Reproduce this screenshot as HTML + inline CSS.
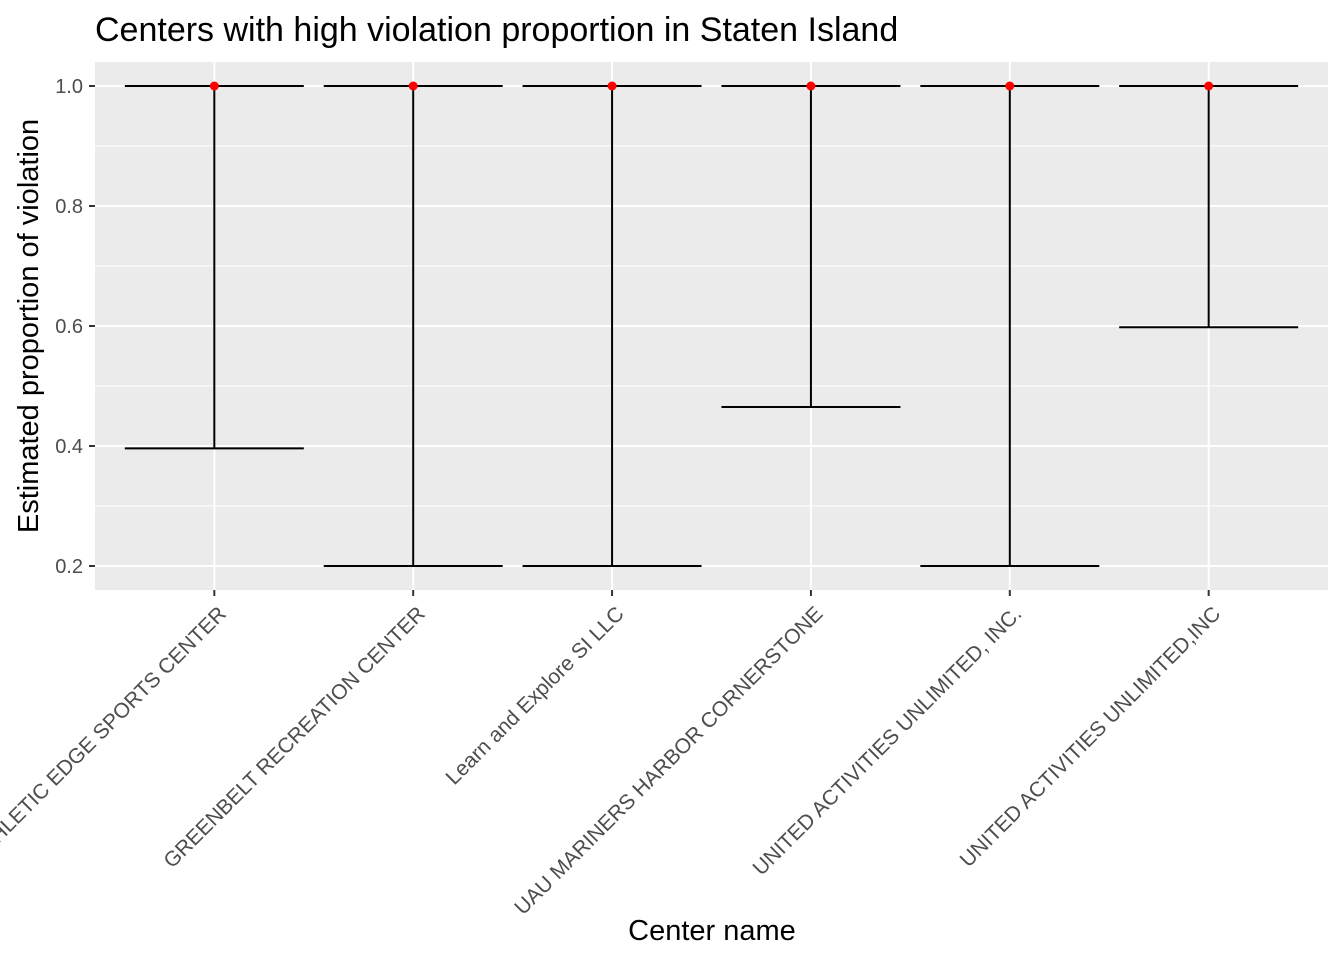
<!DOCTYPE html>
<html><head><meta charset="utf-8"><style>
body{margin:0;background:#fff;}
svg text{font-family:"Liberation Sans",Arial,sans-serif;}
</style></head><body>
<svg id="chart" width="1344" height="960" xmlns="http://www.w3.org/2000/svg">
<text x="95" y="41" font-size="34" fill="#000">Centers with high violation proportion in Staten Island</text>
<rect x="95" y="62" width="1233" height="528" fill="#ebebeb"/>
<g id="grid"></g><g id="marks"></g><g id="axes"></g>
<text x="712" y="940" font-size="29" text-anchor="middle" fill="#000">Center name</text>
<text transform="translate(38,326) rotate(-90)" font-size="29" text-anchor="middle" fill="#000">Estimated proportion of violation</text>
</svg>
<script>
const categories=["ATHLETIC EDGE SPORTS CENTER","GREENBELT RECREATION CENTER","Learn and Explore SI LLC","UAU MARINERS HARBOR CORNERSTONE","UNITED ACTIVITIES UNLIMITED, INC.","UNITED ACTIVITIES UNLIMITED,INC"];
const estimates=[1,1,1,1,1,1];
const lowers=[0.396,0.2,0.2,0.465,0.2,0.598];
const uppers=[1,1,1,1,1,1];
const yTicks=[0.2,0.4,0.6,0.8,1.0];
const yTickLabels=["0.2","0.4","0.6","0.8","1.0"];
const NS="http://www.w3.org/2000/svg";
const L=95,R=1328,T=62,B=590;
const yMin=0.16,yMax=1.04;
const n=categories.length;
function xs(i){return L+(i+0.6)*(R-L)/(n+0.2);}
function ys(v){return B-(v-yMin)/(yMax-yMin)*(B-T);}
const band=(R-L)/(n+0.2);
function mk(tag,attrs,parent){const e=document.createElementNS(NS,tag);for(const k in attrs)e.setAttribute(k,attrs[k]);document.getElementById(parent).appendChild(e);return e;}
const grid='grid',marks='marks',axes='axes';
for(let k=0;k<yTicks.length-1;k++){
  const e=mk('line',{x1:L,x2:R,y1:ys((yTicks[k]+yTicks[k+1])/2),y2:ys((yTicks[k]+yTicks[k+1])/2),stroke:'#fff','stroke-width':1},grid);
  
  
}
yTicks.forEach((t,k)=>{
  const g=mk('line',{x1:L,x2:R,y1:ys(t),y2:ys(t),stroke:'#fff','stroke-width':2},grid);
  
  
  const tk=mk('line',{x1:L-6,x2:L,y1:ys(t),y2:ys(t),stroke:'#333','stroke-width':2},axes);
  
  
  const tx=mk('text',{x:L-12,y:ys(t)+7,'font-size':20,'text-anchor':'end',fill:'#4d4d4d'},axes);
  tx.textContent=yTickLabels[k];
  
  
});
categories.forEach((c,i)=>{
  const x=xs(i);
  const g=mk('line',{x1:x,x2:x,y1:T,y2:B,stroke:'#fff','stroke-width':2},grid);
  
  
  const hw=band*0.45;
  const v=mk('line',{x1:x,x2:x,y1:ys(uppers[i]),y2:ys(lowers[i]),stroke:'#000','stroke-width':2},marks);
  
  
  const top=mk('line',{x1:x-hw,x2:x+hw,y1:ys(uppers[i]),y2:ys(uppers[i]),stroke:'#000','stroke-width':2},marks);
  
  
  const bot=mk('line',{x1:x-hw,x2:x+hw,y1:ys(lowers[i]),y2:ys(lowers[i]),stroke:'#000','stroke-width':2},marks);
  
  
  const p=mk('circle',{cx:x,cy:ys(estimates[i]),r:4.5,fill:'#ff0000'},marks);
  
  
  const tk=mk('line',{x1:x,x2:x,y1:B,y2:B+6,stroke:'#333','stroke-width':2},axes);
  
  
  const tx=mk('text',{transform:`translate(${x+13},${B+25}) rotate(-45)`,'font-size':21,'text-anchor':'end',fill:'#4d4d4d'},axes);
  tx.textContent=c;
  
  
});
</script>
</body></html>
